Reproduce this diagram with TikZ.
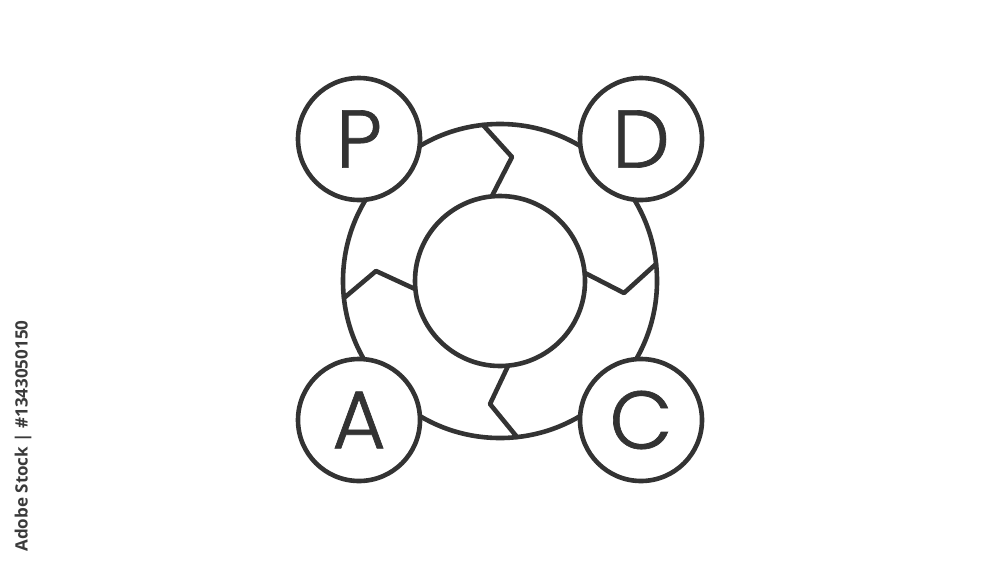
\documentclass[tikz,border=0pt]{standalone}
\usepackage{fontspec}
\usetikzlibrary{calc}
\setmainfont{Poppins Light}
\newfontfamily\letterfont{Poppins Light}[FakeBold=0.8]
\newfontfamily\wmfont{Open Sans}
\definecolor{ink}{HTML}{333333}
\definecolor{wm}{HTML}{3A3A3A}
\begin{document}
\begin{tikzpicture}[x=1pt,y=-1pt,
  ln/.style={draw=ink,line width=4.6pt,line join=round,line cap=round},
  letterbox/.style={circle,draw=ink,fill=white,line width=4.6pt,minimum size=122pt,inner sep=0pt,
     font=\letterfont\fontsize{82}{82}\selectfont,text=ink},
  wmtext/.style={font=\wmfont\bfseries\fontsize{17}{17}\selectfont,text=wm,rotate=90}]
\useasboundingbox[fill=white] (0,0) rectangle (1000,562);
\coordinate (O) at (500,281);
% outer ring and inner circle
\draw[ln] (O) circle[radius=157];
\node[circle,ln,minimum size=170pt,inner sep=0pt] (inner) at (O) {};
% dividers (arrow joints)
\draw[ln] ($(O)+(-17,-156)$) coordinate (t1) -- ($(O)+(12,-124)$) coordinate (t2) -- ($(O)+(-8,-85)$) coordinate (t3);
\draw[ln] ($(O)+(156,-17)$) coordinate (r1) -- ($(O)+(124,12)$) coordinate (r2) -- ($(O)+(85,-8)$) coordinate (r3);
\draw[ln] ($(O)+(17,156)$) coordinate (b1) -- ($(O)+(-10,123)$) coordinate (b2) -- ($(O)+(8,85)$) coordinate (b3);
\draw[ln] ($(O)+(-156,17)$) coordinate (l1) -- ($(O)+(-124,-10)$) coordinate (l2) -- ($(O)+(-85,8)$) coordinate (l3);
% letter circles
\node[letterbox] (P) at (359,139) {P};
\node[letterbox] (D) at (641,139) {D};
\node[letterbox] (A) at (359,420) {A};
\node[letterbox] (C) at (641,420) {C};
% watermark
\node[wmtext] (wm) at (23,436) {Adobe Stock | \#1343050150};
\end{tikzpicture}
\end{document}
